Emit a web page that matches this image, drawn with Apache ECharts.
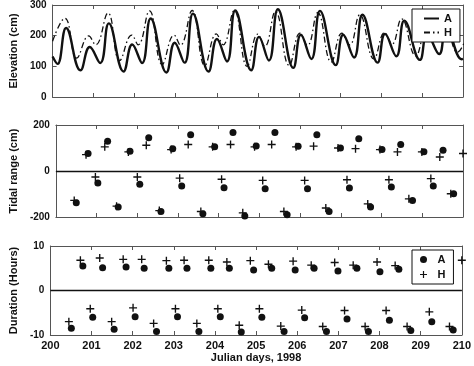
<!DOCTYPE html>
<html>
<head>
<meta charset="utf-8">
<script src="https://cdn.jsdelivr.net/npm/echarts@6/dist/echarts.min.js"></script>
<style>
html,body{margin:0;padding:0;background:#fff;}
#chart{width:474px;height:366px;}
</style>
</head>
<body>
<div id="chart"></div>
<script>
// ---------- data ----------
var xTicks = [200, 201, 202, 203, 204, 205, 206, 207, 208, 209, 210];

// Elevation (cm): turning points
var elevDaysA = [200.00,200.12,200.33,200.68,200.905,201.16,201.37,201.73,201.94,202.18,202.39,202.775,202.975,203.215,203.42,203.80,204.005,204.25,204.45,204.84,205.03,205.27,205.49,205.865,206.05,206.305,206.515,206.90,207.08,207.345,207.55,207.92,208.10,208.375,208.57,208.95,209.125,209.42,209.59,209.97,210.00];
var elevA     = [132,108,225,87,163,111,240,83,171,111,256,80,177,112,272,83,189,116,282,87,196,119,286,95,203,124,281,104,203,129,268,112,206,133,249,121,205,140,230,123,124];
var elevDaysH = [200.00,200.30,200.59,200.88,201.05,201.35,201.635,201.93,202.085,202.36,202.67,202.96,203.115,203.40,203.71,203.99,204.155,204.425,204.74,205.00,205.17,205.43,205.765,206.03,206.21,206.46,206.79,207.05,207.24,207.485,207.83,208.09,208.27,208.505,208.85,209.115,209.315,209.535,209.865,210.14];
var elevH     = [182,257,127,199,170,274,119,202,170,281,106,202,169,282,103,206,170,282,100,205,165,279,103,208,168,275,114,208,170,268,124,210,172,255,134,217,184,245,146,222];

// Tidal range (cm)
var rangeDaysA = [200.50,200.79,201.03,201.27,201.53,201.82,202.06,202.28,202.58,202.87,203.09,203.31,203.61,203.90,204.13,204.35,204.64,204.92,205.14,205.38,205.68,205.95,206.18,206.41,206.71,206.99,207.21,207.44,207.73,208.01,208.24,208.47,208.76,209.04,209.27,209.51,209.77];
var rangeA     = [-138,76,-52,129,-157,86,-58,145,-176,97,-65,158,-186,105,-73,167,-196,109,-77,167,-190,108,-77,158,-176,100,-74,140,-157,93,-70,115,-128,84,-65,90,-99];
var rangeDaysH = [200.45,200.74,200.97,201.20,201.49,201.78,202.00,202.22,202.54,202.83,203.04,203.25,203.56,203.85,204.07,204.29,204.59,204.88,205.08,205.30,205.60,205.90,206.11,206.33,206.63,206.93,207.15,207.36,207.66,207.96,208.18,208.39,208.67,208.99,209.21,209.43,209.70,210.00];
var rangeH     = [-128,71,-26,105,-153,83,-26,112,-172,93,-31,115,-176,105,-36,115,-182,105,-41,115,-176,105,-41,108,-161,100,-38,97,-143,93,-38,83,-121,83,-33,61,-99,76];

// Duration (hours)
var durDaysA = [200.51,200.79,201.03,201.27,201.55,201.84,202.06,202.28,202.58,202.88,203.09,203.32,203.61,203.90,204.13,204.35,204.64,204.94,205.14,205.38,205.68,205.95,206.18,206.41,206.71,206.99,207.21,207.45,207.73,208.01,208.24,208.47,208.76,209.04,209.27,209.51,209.79];
var durA     = [-8.5,5.5,-6.0,5.1,-8.7,5.3,-5.9,5.0,-9.2,5.0,-5.9,5.0,-9.2,5.0,-5.9,5.0,-9.3,4.6,-6.0,5.0,-9.2,4.6,-6.1,5.0,-9.2,4.4,-6.4,5.0,-9.2,4.2,-6.7,4.8,-9.0,4.3,-7.0,4.6,-8.9];
var durDaysH = [200.45,200.73,200.97,201.20,201.49,201.77,202.01,202.22,202.51,202.82,203.04,203.25,203.56,203.85,204.07,204.29,204.59,204.86,205.08,205.30,205.60,205.90,206.11,206.34,206.62,206.91,207.15,207.36,207.65,207.94,208.16,208.38,208.67,208.99,209.21,209.43,209.70,210.00];
var durH     = [-7.0,6.8,-4.1,7.3,-7.0,7.0,-3.9,7.0,-7.4,6.7,-4.1,6.8,-7.4,6.8,-4.1,6.4,-7.8,6.7,-4.1,5.9,-8.0,6.6,-4.4,5.7,-8.1,6.3,-4.5,5.7,-8.1,6.4,-4.5,5.6,-8.1,6.3,-4.8,5.5,-8.1,6.8];

var yNames = ['Elevation (cm)', 'Tidal range (cm)', 'Duration (Hours)'];
var xName = 'Julian days, 1998';
var seriesNames = ['A', 'H'];

// ---------- helpers ----------
function pairs(xs, ys) { return xs.map(function (x, i) { return [x, ys[i]]; }); }
var FONT = '"Liberation Sans", Arial, sans-serif';
var INK = '#111';
var AXIS = '#555';
var PLUS = 'path://M4.15,0H5.85V4.15H10V5.85H5.85V10H4.15V5.85H0V4.15H4.15Z';

var grids = [
  {left: 44, right: 11, top: 5, height: 92},
  {left: 44, right: 11, top: 125, height: 92},
  {left: 44, right: 11, top: 246, height: 89}
];
var yRanges = [[0, 300, 100], [-200, 200, 200], [-10, 10, 10]];

var xAxes = [], yAxes = [];
for (var g = 0; g < 3; g++) {
  xAxes.push({
    type: 'value', gridIndex: g, min: xTicks[0], max: xTicks[xTicks.length - 1], interval: 1,
    position: 'bottom',
    axisLine: {show: true, onZero: false, lineStyle: {color: AXIS, width: 1}},
    axisTick: {show: true, inside: true, length: 4, lineStyle: {color: AXIS}},
    splitLine: {show: false},
    axisLabel: {show: g === 2, margin: 5, color: INK, fontFamily: FONT, fontWeight: 'bold', fontSize: 11},
    name: g === 2 ? xName : '', nameLocation: 'middle', nameGap: 17,
    nameTextStyle: {color: INK, fontFamily: FONT, fontWeight: 'bold', fontSize: 11}
  });
}
for (var g2 = 0; g2 < 3; g2++) {
  xAxes.push({
    type: 'value', gridIndex: g2, min: xTicks[0], max: xTicks[xTicks.length - 1], interval: 1,
    position: 'top',
    axisLine: {show: true, onZero: false, lineStyle: {color: AXIS, width: 1}},
    axisTick: {show: true, inside: true, length: 4, lineStyle: {color: AXIS}},
    splitLine: {show: false}, axisLabel: {show: false}
  });
}
for (var k = 0; k < 3; k++) {
  yAxes.push({
    type: 'value', gridIndex: k, min: yRanges[k][0], max: yRanges[k][1], interval: yRanges[k][2],
    position: 'left',
    axisLine: {show: true, onZero: false, lineStyle: {color: AXIS, width: 1}},
    axisTick: {show: true, inside: true, length: 4, lineStyle: {color: AXIS}},
    splitLine: {show: false},
    axisLabel: {margin: 6, color: INK, fontFamily: FONT, fontWeight: 'bold', fontSize: 10},
    name: yNames[k], nameLocation: 'middle', nameGap: 30, nameRotate: 90,
    nameTextStyle: {color: INK, fontFamily: FONT, fontWeight: 'bold', fontSize: 11}
  });
}
for (var k2 = 0; k2 < 3; k2++) {
  yAxes.push({
    type: 'value', gridIndex: k2, min: yRanges[k2][0], max: yRanges[k2][1], interval: yRanges[k2][2],
    position: 'right',
    axisLine: {show: true, onZero: false, lineStyle: {color: AXIS, width: 1}},
    axisTick: {show: true, inside: true, length: 4, lineStyle: {color: AXIS}},
    splitLine: {show: false}, axisLabel: {show: false}
  });
}

var zeroLine = {
  silent: true, symbol: ['none', 'none'], label: {show: false},
  lineStyle: {color: INK, type: 'solid', width: 1.3},
  data: [{yAxis: 0}], animation: false
};

var markerStyle = {color: INK, opacity: 1};
var series = [
  {name: seriesNames[0], type: 'line', xAxisIndex: 0, yAxisIndex: 0, data: pairs(elevDaysA, elevA),
   smooth: 0.45, symbol: 'none', lineStyle: {color: INK, width: 2.4}, itemStyle: {color: INK}, z: 3},
  {name: seriesNames[1], type: 'line', xAxisIndex: 0, yAxisIndex: 0, data: pairs(elevDaysH, elevH),
   smooth: 0.45, symbol: 'none', lineStyle: {color: INK, width: 1.3, type: [6, 3, 1.5, 3]}, itemStyle: {color: INK}, z: 2},
  {name: seriesNames[0], type: 'scatter', xAxisIndex: 1, yAxisIndex: 1, data: pairs(rangeDaysA, rangeA),
   symbol: 'circle', symbolSize: 7, itemStyle: markerStyle, clip: false, markLine: zeroLine},
  {name: seriesNames[1], type: 'scatter', xAxisIndex: 1, yAxisIndex: 1, data: pairs(rangeDaysH, rangeH),
   symbol: PLUS, symbolSize: 8, itemStyle: markerStyle, clip: false},
  {name: seriesNames[0], type: 'scatter', xAxisIndex: 2, yAxisIndex: 2, data: pairs(durDaysA, durA),
   symbol: 'circle', symbolSize: 7, itemStyle: markerStyle, clip: false, markLine: zeroLine},
  {name: seriesNames[1], type: 'scatter', xAxisIndex: 2, yAxisIndex: 2, data: pairs(durDaysH, durH),
   symbol: PLUS, symbolSize: 8, itemStyle: markerStyle, clip: false}
];

var legendText = {color: INK, fontFamily: FONT, fontWeight: 'bold', fontSize: 11};
var option = {
  animation: false,
  backgroundColor: '#fff',
  grid: grids,
  xAxis: xAxes,
  yAxis: yAxes,
  legend: [
    {left: 412, top: 9, orient: 'vertical', selectedMode: false, data: seriesNames,
     itemWidth: 15, itemHeight: 10, itemGap: 3, padding: [4, 8, 4, 11],
     itemStyle: {color: 'rgba(0,0,0,0)', opacity: 0, borderWidth: 0},
     backgroundColor: '#fff', borderColor: INK, borderWidth: 1, borderRadius: 0,
     textStyle: legendText, z: 10},
    {left: 412, top: 250, orient: 'vertical', selectedMode: false,
     data: [{name: seriesNames[0], icon: 'circle'}, {name: seriesNames[1], icon: PLUS}],
     itemWidth: 18, itemHeight: 7, itemGap: 4, padding: [4, 8, 4, 8],
     itemStyle: {color: INK, opacity: 1},
     backgroundColor: '#fff', borderColor: INK, borderWidth: 1, borderRadius: 0,
     textStyle: legendText, z: 10}
  ],
  series: series
};

var chart = echarts.init(document.getElementById('chart'), null, {renderer: 'canvas'});
chart.setOption(option);
</script>
</body>
</html>
